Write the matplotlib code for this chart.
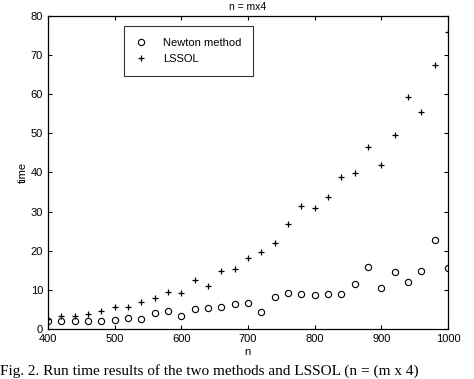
import matplotlib.pyplot as plt
import numpy as np

plt.rcParams["font.family"] = ["Liberation Sans", "DejaVu Sans"]

n = np.arange(400, 1001, 20)
newton = [2.0, 2.0, 2.0, 2.0, 2.1, 2.4, 2.9, 2.5, 4.1, 4.5, 3.3,
          5.2, 5.4, 5.5, 6.4, 6.6, 4.3, 8.1, 9.3, 9.0, 8.6, 9.0,
          9.0, 11.6, 15.8, 10.4, 14.6, 12.1, 14.9, 22.8, 15.6]
lssol = [2.5, 3.2, 3.4, 3.9, 4.7, 5.5, 5.5, 7.0, 7.8, 9.5, 9.2,
         12.6, 11.1, 14.9, 15.3, 18.1, 19.6, 22.0, 26.8, 31.4, 30.9, 33.7,
         38.9, 39.9, 46.5, 41.9, 49.6, 59.4, 55.4, 67.5, 76.0]

fig = plt.figure(figsize=(4.74, 3.79), dpi=100)
ax = fig.add_axes([0.101, 0.132, 0.844, 0.826])

ax.plot(n, newton, "o", mfc="none", mec="black", ms=4.5, mew=0.8,
        label="Newton method")
ax.plot(n, lssol, "+", color="black", ms=5, mew=0.9, label="LSSOL")

ax.set_xlim(400, 1000)
ax.set_ylim(0, 80)
ax.set_xticks(np.arange(400, 1001, 100))
ax.set_yticks(np.arange(0, 81, 10))
ax.tick_params(direction="in", length=3, labelsize=8, width=0.8,
               top=True, right=True)
for s in ax.spines.values():
    s.set_linewidth(0.9)

ax.set_title("n = mx4", fontsize=7.5, pad=4)
ax.set_xlabel("n", fontsize=8, labelpad=2)
ax.set_ylabel("time", fontsize=8, labelpad=2)

leg = ax.legend(loc="upper left", bbox_to_anchor=(0.19, 0.968),
                fontsize=8, frameon=True, fancybox=False, edgecolor="black",
                handlelength=0.8, handletextpad=1.6, borderpad=1.1,
                labelspacing=0.5, borderaxespad=0)
leg.get_frame().set_linewidth(0.8)
for t in leg.get_texts():
    t.set_x(0)

fig.text(0.0, 0.002, "Fig. 2. Run time results of the two methods and LSSOL (n = (m x 4)",
         fontsize=11, family=["Liberation Serif", "DejaVu Serif"], va="bottom")

fig.savefig("out.png", dpi=100)
